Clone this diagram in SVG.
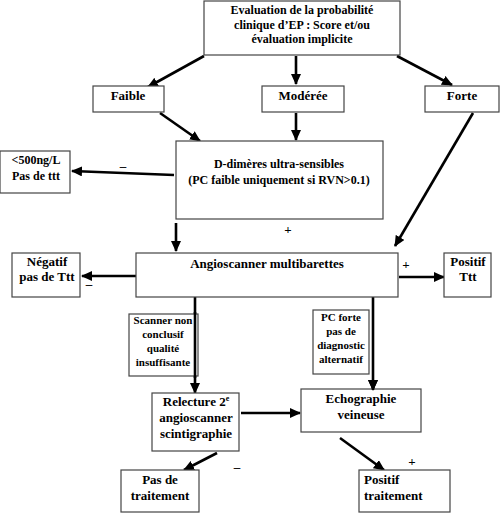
<svg xmlns="http://www.w3.org/2000/svg" width="500" height="513" viewBox="0 0 500 513">
<defs>
<style>
.b{fill:#fff;stroke:#444;stroke-width:1.2}
text{font-family:"Liberation Serif","Times New Roman",serif;font-weight:bold;fill:#000}
.c{text-anchor:middle}
.s12{font-size:12px}
.s13{font-size:13px}
.s11{font-size:11px}
.a{stroke:#000;stroke-width:2.6;fill:none;marker-end:url(#ah)}
.l{stroke:#000;stroke-width:2.6;fill:none}
</style>
<marker id="ah" markerUnits="userSpaceOnUse" markerWidth="12" markerHeight="10" refX="10" refY="5" orient="auto" viewBox="0 0 12 10">
<path d="M0,0 L11,5 L0,10 Z" fill="#000"/>
</marker>
</defs>
<rect width="500" height="513" fill="#fff"/>
<g id="connectors">
<line class="a" x1="204" y1="56" x2="148" y2="87"/>
<line class="a" x1="296" y1="56" x2="296" y2="84"/>
<line class="a" x1="397" y1="56" x2="452" y2="85"/>
<line class="a" x1="160" y1="113" x2="200" y2="141"/>
<line class="a" x1="296" y1="113" x2="296" y2="140"/>
<line class="a" x1="473" y1="113" x2="395" y2="246"/>
<line class="a" x1="174" y1="175" x2="72" y2="171"/>
<line class="a" x1="176" y1="223" x2="176" y2="251"/>
<line class="a" x1="136" y1="276" x2="82" y2="276"/>
<line class="a" x1="399" y1="277" x2="444" y2="277"/>
<line class="a" x1="195" y1="297" x2="195" y2="393"/>
<line class="a" x1="373" y1="297" x2="373" y2="390"/>
<line class="a" x1="241" y1="413" x2="300" y2="413"/>
<line class="a" x1="217" y1="453" x2="184" y2="470"/>
<line class="a" x1="340" y1="438" x2="384" y2="470"/>
<text x="123" y="170" class="c s13">–</text>
<text x="288" y="234" class="c s13">+</text>
<text x="89" y="288" class="c s13">–</text>
<text x="406" y="269" class="c s13">+</text>
<text x="237" y="471" class="c s13">–</text>
<text x="412" y="466" class="c s13">+</text>
</g>
<g id="n-eval">
<rect class="b" x="204" y="1" width="196" height="54"/>
<text class="c s12" x="302" y="14">Evaluation de la probabilité</text>
<text class="c s12" x="302" y="29">clinique d’EP : Score et/ou</text>
<text class="c s12" x="302" y="43">évaluation implicite</text>
</g>
<g id="n-faible">
<rect class="b" x="93" y="86" width="71" height="26"/>
<text class="c s13" x="128" y="100">Faible</text>
</g>
<g id="n-moderee">
<rect class="b" x="262" y="86" width="82" height="26"/>
<text class="c s13" x="303" y="100">Modérée</text>
</g>
<g id="n-forte">
<rect class="b" x="425" y="86" width="74" height="26"/>
<text class="c s13" x="462" y="100">Forte</text>
</g>
<g id="n-ddimeres">
<rect class="b" x="176" y="141" width="207" height="78"/>
<text class="c s12" x="279" y="168">D-dimères ultra-sensibles</text>
<text class="c s12" x="279" y="184">(PC faible uniquement si RVN&gt;0.1)</text>
</g>
<g id="n-500">
<rect class="b" x="0" y="151" width="70" height="42"/>
<text class="c s12" x="36" y="164">&lt;500ng/L</text>
<text class="c s12" x="36" y="180">Pas de ttt</text>
</g>
<g id="n-angio">
<rect class="b" x="136" y="253" width="262" height="44"/>
<text class="c s13" x="267" y="268">Angioscanner multibarettes</text>
</g>
<g id="n-negatif">
<rect class="b" x="12" y="253" width="68" height="44"/>
<text class="c s13" x="47" y="266">Négatif</text>
<text class="c s13" x="47" y="281">pas de Ttt</text>
</g>
<g id="n-positif">
<rect class="b" x="444" y="253" width="47" height="44"/>
<text class="c s13" x="468" y="266">Positif</text>
<text class="c s13" x="468" y="281">Ttt</text>
</g>
<g id="n-scanner">
<rect class="b" x="129" y="314" width="69" height="62"/>
<text class="c s11" x="163" y="324">Scanner non</text>
<text class="c s11" x="163" y="338">conclusif</text>
<text class="c s11" x="163" y="352">qualité</text>
<text class="c s11" x="163" y="366">insuffisante</text>
</g>
<line class="l" x1="195" y1="312" x2="195" y2="378"/>
<g id="n-pcforte">
<rect class="b" x="313" y="310" width="56" height="64"/>
<text class="c s11" x="341" y="321">PC forte</text>
<text class="c s11" x="341" y="335">pas de</text>
<text class="c s11" x="341" y="349">diagnostic</text>
<text class="c s11" x="341" y="363">alternatif</text>
</g>
<g id="n-relecture">
<rect class="b" x="152" y="393" width="87" height="58"/>
<text class="c s13" x="196" y="406">Relecture 2<tspan font-size="8" dy="-5">e</tspan></text>
<text class="c s13" x="196" y="422">angioscanner</text>
<text class="c s13" x="196" y="438">scintigraphie</text>
</g>
<g id="n-echo">
<rect class="b" x="301" y="389" width="120" height="43"/>
<text class="c s13" x="361" y="403">Echographie</text>
<text class="c s13" x="361" y="419">veineuse</text>
</g>
<line class="a" x1="373" y1="380" x2="373" y2="390"/>
<g id="n-pas">
<rect class="b" x="121" y="470" width="78" height="42"/>
<text class="c s13" x="160" y="484">Pas de</text>
<text class="c s13" x="160" y="500">traitement</text>
</g>
<g id="n-positif2">
<rect class="b" x="359" y="470" width="91" height="42"/>
<text class="s13" x="364" y="484">Positif</text>
<text class="s13" x="364" y="500">traitement</text>
</g>
</svg>
